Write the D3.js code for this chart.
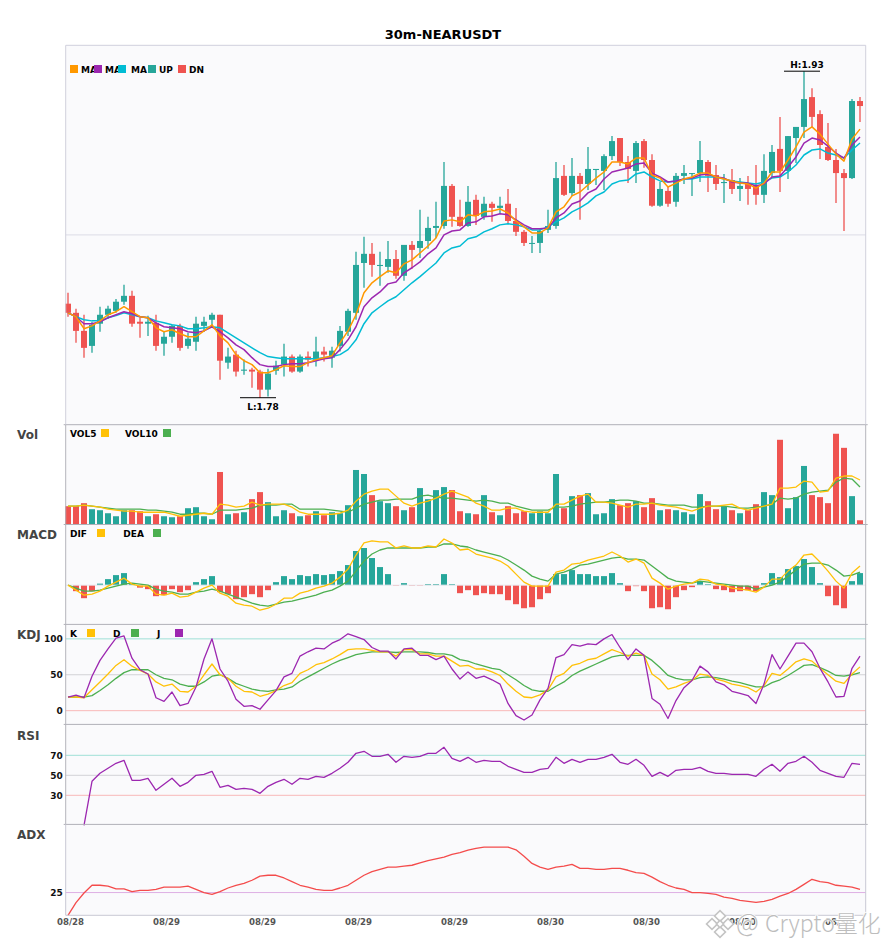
<!DOCTYPE html>
<html>
<head>
<meta charset="utf-8">
<style>
  html, body { margin: 0; padding: 0; background: #fff; }
  text { font-family: "DejaVu Sans", sans-serif; }
</style>
<script src="https://cdn.jsdelivr.net/npm/d3@7"></script>
</head>
<body>
<div id="chart"></div>
<script>
var tickIndex = [0, 12, 24, 36, 48, 60, 72, 84, 96];
var tickLabels = ['08/28', '08/29', '08/29', '08/29', '08/29', '08/30', '08/30', '08/30', '08/30'];

var open = [
  1.8232,1.8190,1.8107,1.8038,1.8140,1.8181,1.8199,1.8241,1.8268,1.8149,
  1.8140,1.8144,1.8048,1.8080,1.8130,1.8038,1.8057,1.8130,1.8158,1.8181,
  1.7961,1.7998,1.7924,1.7929,1.7920,1.7837,1.7924,1.7952,1.7989,1.7920,
  1.7989,1.7975,1.8012,1.7984,1.8038,1.8103,1.8190,1.8419,1.8461,1.8405,
  1.8401,1.8437,1.8360,1.8502,1.8488,1.8520,1.8580,1.8589,1.8773,1.8631,
  1.8589,1.8709,1.8631,1.8691,1.8672,1.8691,1.8612,1.8562,1.8507,1.8511,
  1.8571,1.8589,1.8819,1.8740,1.8819,1.8782,1.8846,1.8842,1.8910,1.8993,
  1.8883,1.8842,1.8979,1.8892,1.8682,1.8750,1.8700,1.8819,1.8828,1.8832,
  1.8883,1.8823,1.8786,1.8800,1.8759,1.8782,1.8777,1.8732,1.8832,1.8943,
  1.8842,1.8993,1.9044,1.9181,1.9103,1.8952,1.8892,1.8832,1.8809,1.9163];
var close = [
  1.8190,1.8107,1.8029,1.8135,1.8181,1.8209,1.8241,1.8268,1.8140,1.8140,
  1.8149,1.8038,1.8080,1.8130,1.8029,1.8071,1.8140,1.8149,1.8181,1.7970,
  1.7989,1.7920,1.7929,1.7920,1.7837,1.7911,1.7947,1.7989,1.7920,1.7989,
  1.7975,1.8012,1.7998,1.8016,1.8107,1.8199,1.8410,1.8461,1.8410,1.8410,
  1.8437,1.8360,1.8502,1.8479,1.8520,1.8580,1.8589,1.8773,1.8631,1.8589,
  1.8700,1.8635,1.8691,1.8672,1.8682,1.8612,1.8562,1.8511,1.8511,1.8566,
  1.8589,1.8809,1.8732,1.8819,1.8782,1.8851,1.8851,1.8910,1.8979,1.8883,
  1.8851,1.8970,1.8892,1.8682,1.8759,1.8691,1.8819,1.8832,1.8832,1.8892,
  1.8819,1.8782,1.8791,1.8759,1.8773,1.8759,1.8732,1.8842,1.8929,1.8842,
  1.9002,1.9044,1.9172,1.9090,1.8961,1.8892,1.8832,1.8809,1.9163,1.9140];
var high = [
  1.8282,1.8209,1.8181,1.8149,1.8218,1.8222,1.8254,1.8319,1.8291,1.8167,
  1.8177,1.8181,1.8107,1.8135,1.8140,1.8098,1.8172,1.8172,1.8190,1.8181,
  1.8029,1.8016,1.7975,1.7938,1.7929,1.7933,1.7970,1.8048,1.7998,1.7998,
  1.8012,1.8080,1.8034,1.8034,1.8130,1.8209,1.8470,1.8539,1.8511,1.8470,
  1.8520,1.8479,1.8502,1.8520,1.8663,1.8631,1.8700,1.8883,1.8782,1.8709,
  1.8773,1.8732,1.8723,1.8700,1.8723,1.8759,1.8672,1.8571,1.8543,1.8580,
  1.8663,1.8883,1.8869,1.8901,1.8832,1.8952,1.8851,1.8919,1.9002,1.8993,
  1.8910,1.8979,1.8988,1.8919,1.8791,1.8773,1.8832,1.8869,1.8832,1.8979,
  1.8892,1.8869,1.8828,1.8851,1.8809,1.8819,1.8869,1.8919,1.8961,1.9090,
  1.9002,1.9044,1.9300,1.9222,1.9121,1.9062,1.8943,1.8851,1.9172,1.9181];
var low = [
  1.8172,1.8052,1.7984,1.8007,1.8103,1.8163,1.8190,1.8227,1.8126,1.8075,
  1.8084,1.8016,1.7993,1.8052,1.8016,1.8025,1.8016,1.8103,1.8126,1.7883,
  1.7933,1.7897,1.7906,1.7846,1.7800,1.7805,1.7906,1.7897,1.7915,1.7915,
  1.7943,1.7943,1.7966,1.7938,1.8012,1.8084,1.8158,1.8305,1.8356,1.8314,
  1.8374,1.8347,1.8337,1.8392,1.8442,1.8484,1.8534,1.8576,1.8585,1.8585,
  1.8585,1.8594,1.8617,1.8608,1.8645,1.8599,1.8543,1.8497,1.8465,1.8465,
  1.8557,1.8576,1.8727,1.8727,1.8617,1.8754,1.8777,1.8754,1.8892,1.8865,
  1.8786,1.8786,1.8856,1.8677,1.8677,1.8677,1.8677,1.8782,1.8727,1.8791,
  1.8745,1.8754,1.8695,1.8736,1.8704,1.8686,1.8686,1.8695,1.8814,1.8745,
  1.8805,1.8878,1.8993,1.9044,1.8897,1.8887,1.8695,1.8566,1.8805,1.9067];

var ma1 = [
  1.8190,1.8172,1.8117,1.8130,1.8153,1.8181,1.8195,1.8218,1.8195,1.8172,
  1.8167,1.8121,1.8103,1.8112,1.8094,1.8080,1.8080,1.8107,1.8135,1.8084,
  1.8052,1.7998,1.7970,1.7952,1.7915,1.7915,1.7929,1.7947,1.7943,1.7943,
  1.7961,1.7975,1.7984,1.7993,1.8052,1.8107,1.8181,1.8282,1.8328,1.8356,
  1.8383,1.8374,1.8415,1.8433,1.8465,1.8497,1.8534,1.8612,1.8617,1.8608,
  1.8640,1.8635,1.8654,1.8658,1.8667,1.8649,1.8612,1.8585,1.8557,1.8557,
  1.8580,1.8654,1.8677,1.8727,1.8745,1.8777,1.8809,1.8837,1.8883,1.8883,
  1.8874,1.8901,1.8901,1.8823,1.8809,1.8768,1.8786,1.8805,1.8814,1.8832,
  1.8832,1.8814,1.8805,1.8796,1.8786,1.8782,1.8763,1.8786,1.8837,1.8837,
  1.8892,1.8952,1.9020,1.9044,1.9011,1.8965,1.8919,1.8887,1.8988,1.9034];
var ma2 = [
  1.8190,1.8172,1.8140,1.8140,1.8149,1.8167,1.8181,1.8195,1.8186,1.8172,
  1.8167,1.8144,1.8126,1.8121,1.8117,1.8103,1.8098,1.8107,1.8126,1.8103,
  1.8075,1.8043,1.8021,1.7984,1.7952,1.7943,1.7943,1.7952,1.7956,1.7956,
  1.7961,1.7970,1.7979,1.7984,1.8021,1.8066,1.8126,1.8218,1.8259,1.8286,
  1.8323,1.8332,1.8374,1.8397,1.8424,1.8461,1.8488,1.8548,1.8566,1.8571,
  1.8603,1.8608,1.8631,1.8635,1.8645,1.8640,1.8617,1.8594,1.8576,1.8576,
  1.8580,1.8626,1.8649,1.8690,1.8704,1.8741,1.8759,1.8805,1.8837,1.8846,
  1.8855,1.8874,1.8878,1.8832,1.8814,1.8791,1.8796,1.8805,1.8809,1.8823,
  1.8828,1.8814,1.8809,1.8791,1.8786,1.8786,1.8773,1.8782,1.8814,1.8819,
  1.8860,1.8906,1.8970,1.8993,1.8984,1.8956,1.8924,1.8901,1.8961,1.8998];
var ma3 = [
  1.8190,1.8172,1.8158,1.8153,1.8153,1.8167,1.8177,1.8190,1.8181,1.8172,
  1.8167,1.8153,1.8144,1.8135,1.8130,1.8117,1.8117,1.8121,1.8126,1.8121,
  1.8098,1.8075,1.8052,1.8029,1.8007,1.7989,1.7984,1.7979,1.7979,1.7979,
  1.7979,1.7979,1.7984,1.7989,1.7998,1.8021,1.8066,1.8140,1.8190,1.8218,
  1.8245,1.8264,1.8296,1.8328,1.8356,1.8388,1.8419,1.8465,1.8488,1.8497,
  1.8530,1.8539,1.8562,1.8576,1.8594,1.8599,1.8594,1.8585,1.8571,1.8571,
  1.8585,1.8608,1.8626,1.8654,1.8672,1.8695,1.8727,1.8745,1.8782,1.8796,
  1.8800,1.8828,1.8837,1.8814,1.8796,1.8791,1.8796,1.8805,1.8805,1.8814,
  1.8814,1.8814,1.8805,1.8796,1.8791,1.8786,1.8782,1.8791,1.8809,1.8814,
  1.8837,1.8869,1.8915,1.8938,1.8943,1.8924,1.8915,1.8901,1.8938,1.8970];

var vol = [
  18,18,21,15,14,11,8,14,14,13, 8,10,8,7,8,16,17,8,5,52,
  10,11,12,25,32,22,8,14,11,8, 9,13,9,12,11,19,54,50,29,23,
  21,18,14,17,36,25,34,37,34,13, 11,10,29,12,9,18,11,13,11,13,
  11,50,16,28,29,31,10,11,25,19, 21,23,17,26,14,15,14,12,10,30,
  23,15,18,14,11,14,20,32,29,84, 16,27,58,29,27,21,90,76,28,4];
var vol5 = [
  18,18,19,18,17,15,14,13,13,12, 12,12,12,10,8,9,10,11,10,20,
  19,17,18,22,19,20,20,20,17,12, 10,10,10,10,11,14,23,30,33,35,
  35,28,21,18,21,23,26,30,33,30, 27,21,18,14,14,16,16,13,12,12,
  12,20,20,24,28,30,22,22,21,19, 17,20,20,21,19,18,17,15,13,16,
  18,18,19,20,16,14,16,18,20,36, 36,37,43,42,32,33,46,48,48,44];
var vol10 = [
  18,18,19,18,17,16,15,15,15,15, 14,14,13,12,10,10,11,11,10,14,
  14,14,15,16,19,19,19,20,20,15, 15,15,15,14,13,12,16,20,22,24,
  24,25,25,25,28,29,27,26,26,25, 24,23,24,23,21,21,18,16,14,14,
  14,17,17,18,20,21,22,22,23,24, 24,23,21,21,20,19,19,19,17,17,
  18,18,18,17,16,16,17,18,20,26, 25,26,30,32,33,34,42,46,45,37];

var hist = [
  0,-6,-13,-6,1.5,6,10,12,2,-2.5, -4,-11,-10,-4,-7,-5,3,6,9,-7,
  -9,-14,-12,-9,-12,-5,3,9,6,10, 9,11,10,11,14,20,34,37,27,18,
  11,-0.5,2,-0.5,-0.5,1,1,11,1,-8, -5,-10,-8,-9,-9,-15,-19,-23,-22,-14,
  -8,11,11,15,11,11,9,9,12,2, -6,-1,-6,-23,-22,-24,-12,-5,-2,4,
  1,-4,-5,-7,-6,-5,-6,2,12,8, 16,19,26,18,2,-11,-20,-23,4,12];
var dif = [
  0,-5,-10,-9,-6,-1,3,7,1,-1, -1,-9,-10,-8,-12,-11,-7,-3,0,-8,
  -11,-18,-20,-21,-25,-23,-19,-13,-13,-8, -6,-3,-1,2,8,16,30,42,44,43,
  43,37,39,37,37,39,38,46,42,35, 36,31,29,27,24,19,11,3,-1,-1,
  -1,13,15,21,22,25,27,29,33,29, 23,26,22,7,2,-4,-1,1,2,6,
  5,1,0,-3,-4,-5,-7,-2,6,6, 14,20,30,31,23,14,4,-3,12,19];
var dea = [
  0,-3,-6,-6,-5,-3,-1,1,2,1, 0,-4,-6,-7,-9,-9,-7,-6,-4,-6,
  -9,-12,-15,-18,-20,-21,-19,-17,-16,-14, -12,-10,-7,-5,-1,4,14,24,31,35,
  37,37,37,37,37,38,38,41,41,39, 38,35,33,31,29,25,20,15,9,6,
  4,11,13,16,20,21,23,25,27,28, 26,26,25,19,13,7,4,3,2,4,
  3,2,1,0,-1,-1,-4,-2,0,3, 9,15,21,22,22,20,15,9,10,13];

var kLine = [
  19,19,18,29,40,51,63,71,62,56, 51,40,34,37,27,26,34,50,65,50,
  45,34,27,26,20,23,28,35,39,52, 57,64,67,72,78,85,86,86,84,82,
  82,76,85,85,79,79,76,76,69,62, 63,58,58,54,49,37,27,19,18,22,
  29,47,52,63,66,71,73,79,85,81, 76,80,77,51,43,30,33,38,42,51,
  49,44,41,37,35,32,26,35,52,49, 58,68,72,69,59,50,41,38,51,61];
var dLine = [
  19,19,19,21,28,36,45,53,57,57, 57,50,45,43,37,34,34,40,48,50,
  45,38,34,30,28,27,29,30,33,41, 47,53,59,65,70,74,78,80,82,82,
  82,81,82,82,82,81,79,79,77,71, 69,65,62,59,57,50,43,35,29,27,
  27,34,40,49,55,60,65,70,75,77, 77,77,77,70,60,49,45,43,43,46,
  47,46,44,41,39,36,33,33,39,43, 49,56,63,64,60,55,49,48,50,53];
var jLine = [
  19,21.5,18,48,70,86,101,104,73,57, 51,18,13,26,7,10,33,72,100,58,
  41,16,6,7,2,15,28,47,52,76, 82,87,86,94,99,107,103,99,88,83,
  83,72,86,87,77,77,71,76,58,44, 54,45,48,43,37,10,-7,-13,-6,15,
  31,74,78,92,90,93,92,100,106,88, 71,86,77,17,9,-11,14,32,42,62,
  54,40,36,27,24,21,10,37,78,58, 76,94,94,82,59,40,19,20,59,76];

var rsi = [
  null,null,0,44,52,57,62,65,45,45, 47,35,41,47,39,43,50,51,54,38,
  40,36,37,36,32,39,43,46,41,47, 46,49,48,52,57,63,72,74,69,69,
  71,63,69,68,69,72,72,78,67,64, 68,63,65,64,64,59,56,53,53,56,
  57,68,62,66,63,66,66,68,71,63, 61,66,60,49,53,49,55,56,56,58,
  54,52,52,51,51,51,49,56,61,54, 62,64,69,63,55,52,49,48,62,61];
var adx = [
  0,14,24.5,33,33,32,29,29,26,27.5, 27.5,28.5,31,31,31,32,28.5,25,23,26,
  30,33,35,38.5,43,44,44,41,37,33, 31,28.5,27.5,27.5,30,33,38.5,44,48,50.5,
  53,53,54,55,57.5,60,62,64,67,69, 71.5,73.6,75,75,75,75,72,65,57,53,
  50.5,53,54,56,51.6,51.6,50.5,50.5,51.6,51.6, 49.5,47,46,42,37,33,30,28.5,25,25,
  24,23,20,18.7,16.5,15.4,14.3,15.4,17.6,21, 24,28.5,34,39.6,37,36,33,32,31,28.5];

var UP = '#26a69a', DN = '#ef5350';
var YELLOW = '#ffc107', GREEN = '#4caf50', PURPLE = '#9c27b0';
var ORANGE = '#ff9800', CYAN = '#00bcd4', ADX_RED = '#f44b4b';
var LEFT = 65.7, RIGHT = 865.7;

var indexes = d3.range(open.length);
var x = d3.scalePoint().domain(indexes).range([68, 860]);

var svg = d3.select('#chart').append('svg')
  .attr('width', 885).attr('height', 950)
  .style('display', 'block');

svg.append('text').attr('x', 443).attr('y', 39)
  .attr('text-anchor', 'middle')
  .attr('font-size', 13).attr('font-weight', 'bold')
  .text('30m-NEARUSDT');

// panels: top and bottom pixel rows, with the value range each one shows
var yMain = d3.scaleLinear().domain([1.7676, 1.9419]).range([424.7, 45.3]);
var yVol  = d3.scaleLinear().domain([0, 99]).range([524.3, 424.7]);
var yMacd = d3.scaleLinear().domain([-39, 60.4]).range([624.3, 524.5]);
var yKdj  = d3.scaleLinear().domain([-19, 120]).range([724.3, 624.5]);
var yRsi  = d3.scaleLinear().domain([0, 100]).range([825.3, 725.3]);
var yAdx  = d3.scaleLinear().domain([0, 100]).range([915.3, 824.3]);

svg.append('rect').attr('x', LEFT).attr('y', 45.3)
  .attr('width', RIGHT - LEFT).attr('height', 870)
  .attr('fill', '#fafafc');

function hLine(y, color, out) {
  svg.append('line').attr('x1', LEFT - (out || 0)).attr('x2', RIGHT + (out || 0))
    .attr('y1', y).attr('y2', y)
    .attr('stroke', color).attr('stroke-width', 1);
}

function drawLine(data, scale, color, width) {
  var line = d3.line()
    .defined(function (d) { return d !== null; })
    .x(function (d, i) { return x(i); })
    .y(function (d) { return scale(d); });
  svg.append('path').datum(data)
    .attr('d', line)
    .attr('fill', 'none')
    .attr('stroke', color)
    .attr('stroke-width', width || 1.3)
    .attr('stroke-linejoin', 'round');
}

function legend(items, textY) {
  // text first, the swatches may sit on top of it like in the original
  items.forEach(function (it) {
    svg.append('text').attr('x', it.tx).attr('y', textY)
      .attr('font-size', 9).attr('font-weight', 'bold').text(it.name);
  });
  items.forEach(function (it) {
    svg.append('rect').attr('x', it.sx).attr('y', textY - 7.5)
      .attr('width', 8).attr('height', 8).attr('fill', it.color);
  });
}

function panelName(name, y) {
  svg.append('text').attr('x', 17).attr('y', y)
    .attr('font-size', 12).attr('font-weight', 'bold')
    .attr('fill', '#444').text(name);
}

function yAxisLabels(scale, values) {
  var axis = d3.axisLeft(scale).tickValues(values).tickSize(0).tickPadding(3);
  var g = svg.append('g').attr('transform', 'translate(' + LEFT + ',0)').call(axis);
  g.select('.domain').remove();
  g.selectAll('text').attr('font-size', 9).attr('font-weight', 'bold')
    .attr('font-family', '"DejaVu Sans"').attr('fill', '#111');
}

// reference lines
hLine(yMain(1.8548), '#dcdce6');
[100, 50, 0].forEach(function (v, i) {
  hLine(yKdj(v), ['#9fe0d6', '#d2d2d6', '#f8b8b8'][i]);
});
[70, 50, 30].forEach(function (v, i) {
  hLine(yRsi(v), ['#9fe0d6', '#d2d2d6', '#f8b8b8'][i]);
});
hLine(yAdx(25), '#deb0e4');

// candles
var candle = svg.append('g').selectAll('g').data(indexes).enter().append('g');
candle.append('line')
  .attr('x1', function (i) { return x(i); })
  .attr('x2', function (i) { return x(i); })
  .attr('y1', function (i) { return yMain(high[i]); })
  .attr('y2', function (i) { return yMain(low[i]); })
  .attr('stroke', function (i) { return close[i] >= open[i] ? UP : DN; })
  .attr('stroke-width', 1.3);
candle.append('rect')
  .attr('x', function (i) { return x(i) - 3; })
  .attr('width', 6)
  .attr('y', function (i) { return yMain(Math.max(open[i], close[i])); })
  .attr('height', function (i) {
    return Math.max(1, yMain(Math.min(open[i], close[i])) - yMain(Math.max(open[i], close[i])));
  })
  .attr('fill', function (i) { return close[i] >= open[i] ? UP : DN; });

drawLine(ma3, yMain, CYAN, 1.5);
drawLine(ma2, yMain, PURPLE, 1.5);
drawLine(ma1, yMain, ORANGE, 1.5);

// high and low marks
var hiIdx = d3.maxIndex(high), loIdx = d3.minIndex(low);
[[hiIdx, high[hiIdx], 'H:' + d3.format('.2f')(high[hiIdx]), -3],
 [loIdx, low[loIdx], 'L:' + d3.format('.2f')(low[loIdx]), 12]].forEach(function (m) {
  var py = yMain(m[1]);
  svg.append('line')
    .attr('x1', x(m[0]) - 20).attr('x2', x(m[0]) + 16)
    .attr('y1', py).attr('y2', py)
    .attr('stroke', '#000').attr('stroke-width', 1);
  svg.append('text')
    .attr('x', x(m[0]) + 3).attr('y', py + m[3])
    .attr('text-anchor', 'middle')
    .attr('font-size', 9).attr('font-weight', 'bold')
    .text(m[2]);
});

// volume
svg.append('g').selectAll('rect').data(indexes).enter().append('rect')
  .attr('x', function (i) { return x(i) - 3; })
  .attr('width', 6)
  .attr('y', function (i) { return yVol(vol[i]); })
  .attr('height', function (i) { return yVol(0) - yVol(vol[i]); })
  .attr('fill', function (i) { return close[i] >= open[i] ? UP : DN; });
drawLine(vol10, yVol, GREEN);
drawLine(vol5, yVol, YELLOW);

// macd
svg.append('g').selectAll('rect').data(indexes).enter().append('rect')
  .attr('x', function (i) { return x(i) - 3; })
  .attr('width', 6)
  .attr('y', function (i) { return yMacd(Math.max(hist[i], 0)); })
  .attr('height', function (i) { return Math.abs(yMacd(hist[i]) - yMacd(0)); })
  .attr('fill', function (i) { return hist[i] >= 0 ? UP : DN; });
hLine(yMacd(0), '#e8e8ee');
drawLine(dea, yMacd, GREEN);
drawLine(dif, yMacd, YELLOW);

// kdj
drawLine(dLine, yKdj, GREEN);
drawLine(kLine, yKdj, YELLOW);
drawLine(jLine, yKdj, PURPLE);

// rsi
drawLine(rsi, yRsi, PURPLE);

// adx
drawLine(adx, yAdx, ADX_RED);

// frame, drawn over the marks
[424.7, 524.5, 624.4, 724.4, 824.4].forEach(function (y) { hLine(y, '#b0b0b8', 2); });
hLine(45.3, '#d0d0dc');
hLine(915.3, '#c8c8d4');
[[45.3, 424.7, '#d0d0dc'], [424.7, 824.4, '#b4b4bc'], [824.4, 915.3, '#c8c8d4']].forEach(function (s) {
  svg.append('line').attr('x1', LEFT).attr('x2', LEFT).attr('y1', s[0]).attr('y2', s[1])
    .attr('stroke', s[2]);
  svg.append('line').attr('x1', RIGHT).attr('x2', RIGHT).attr('y1', s[0]).attr('y2', s[1])
    .attr('stroke', s[2]);
});

// labels
panelName('Vol', 439);
panelName('MACD', 539);
panelName('KDJ', 639);
panelName('RSI', 739.5);
panelName('ADX', 839);

yAxisLabels(yKdj, [0, 50, 100]);
yAxisLabels(yRsi, [30, 50, 70]);
yAxisLabels(yAdx, [25]);

legend([
  { name: 'MA', tx: 81, sx: 70, color: ORANGE },
  { name: 'MA', tx: 105, sx: 94, color: PURPLE },
  { name: 'MA', tx: 131, sx: 118, color: CYAN },
  { name: 'UP', tx: 159, sx: 148, color: UP },
  { name: 'DN', tx: 189, sx: 178, color: DN }
], 72.5);
legend([
  { name: 'VOL5', tx: 70, sx: 101, color: YELLOW },
  { name: 'VOL10', tx: 125, sx: 163, color: GREEN }
], 436.5);
legend([
  { name: 'DIF', tx: 70, sx: 97, color: YELLOW },
  { name: 'DEA', tx: 123.3, sx: 153, color: GREEN }
], 536.5);
legend([
  { name: 'K', tx: 70, sx: 87, color: YELLOW },
  { name: 'D', tx: 113, sx: 131, color: GREEN },
  { name: 'J', tx: 157, sx: 175, color: PURPLE }
], 636.5);

// date axis
var xAxis = d3.axisBottom(x).tickValues(tickIndex).tickSize(0).tickPadding(4)
  .tickFormat(function (d) { return tickLabels[tickIndex.indexOf(d)]; });
var xg = svg.append('g').attr('transform', 'translate(2,915.3)').call(xAxis);
xg.select('.domain').remove();
xg.selectAll('text').attr('font-size', 8.6).attr('font-weight', 'bold')
  .attr('font-family', '"DejaVu Sans"').attr('fill', '#555');

// watermark
var mark = svg.append('g').attr('stroke', '#c4c4c4').attr('fill', '#fff');
var diamond = d3.symbol().type(d3.symbolSquare);
[[720, 916, 60], [712, 924, 60], [728, 924, 60], [720, 932, 60], [720, 924, 26]].forEach(function (d) {
  mark.append('path')
    .attr('d', diamond.size(d[2])())
    .attr('transform', 'translate(' + d[0] + ',' + d[1] + ') rotate(45)')
    .attr('stroke-width', 1.6);
});
[['@', 736, 25], ['Crypto量化', 765, 23]].forEach(function (t) {
  svg.append('text').attr('x', t[1]).attr('y', 932)
    .style('font-family', '"Noto Sans CJK SC", "Noto Sans", sans-serif')
    .style('font-weight', 300)
    .attr('font-size', t[2])
    .attr('fill', '#bdbdbd')
    .attr('stroke', '#fff').attr('stroke-width', 1.5)
    .style('paint-order', 'stroke')
    .text(t[0]);
});
</script>
</body>
</html>
